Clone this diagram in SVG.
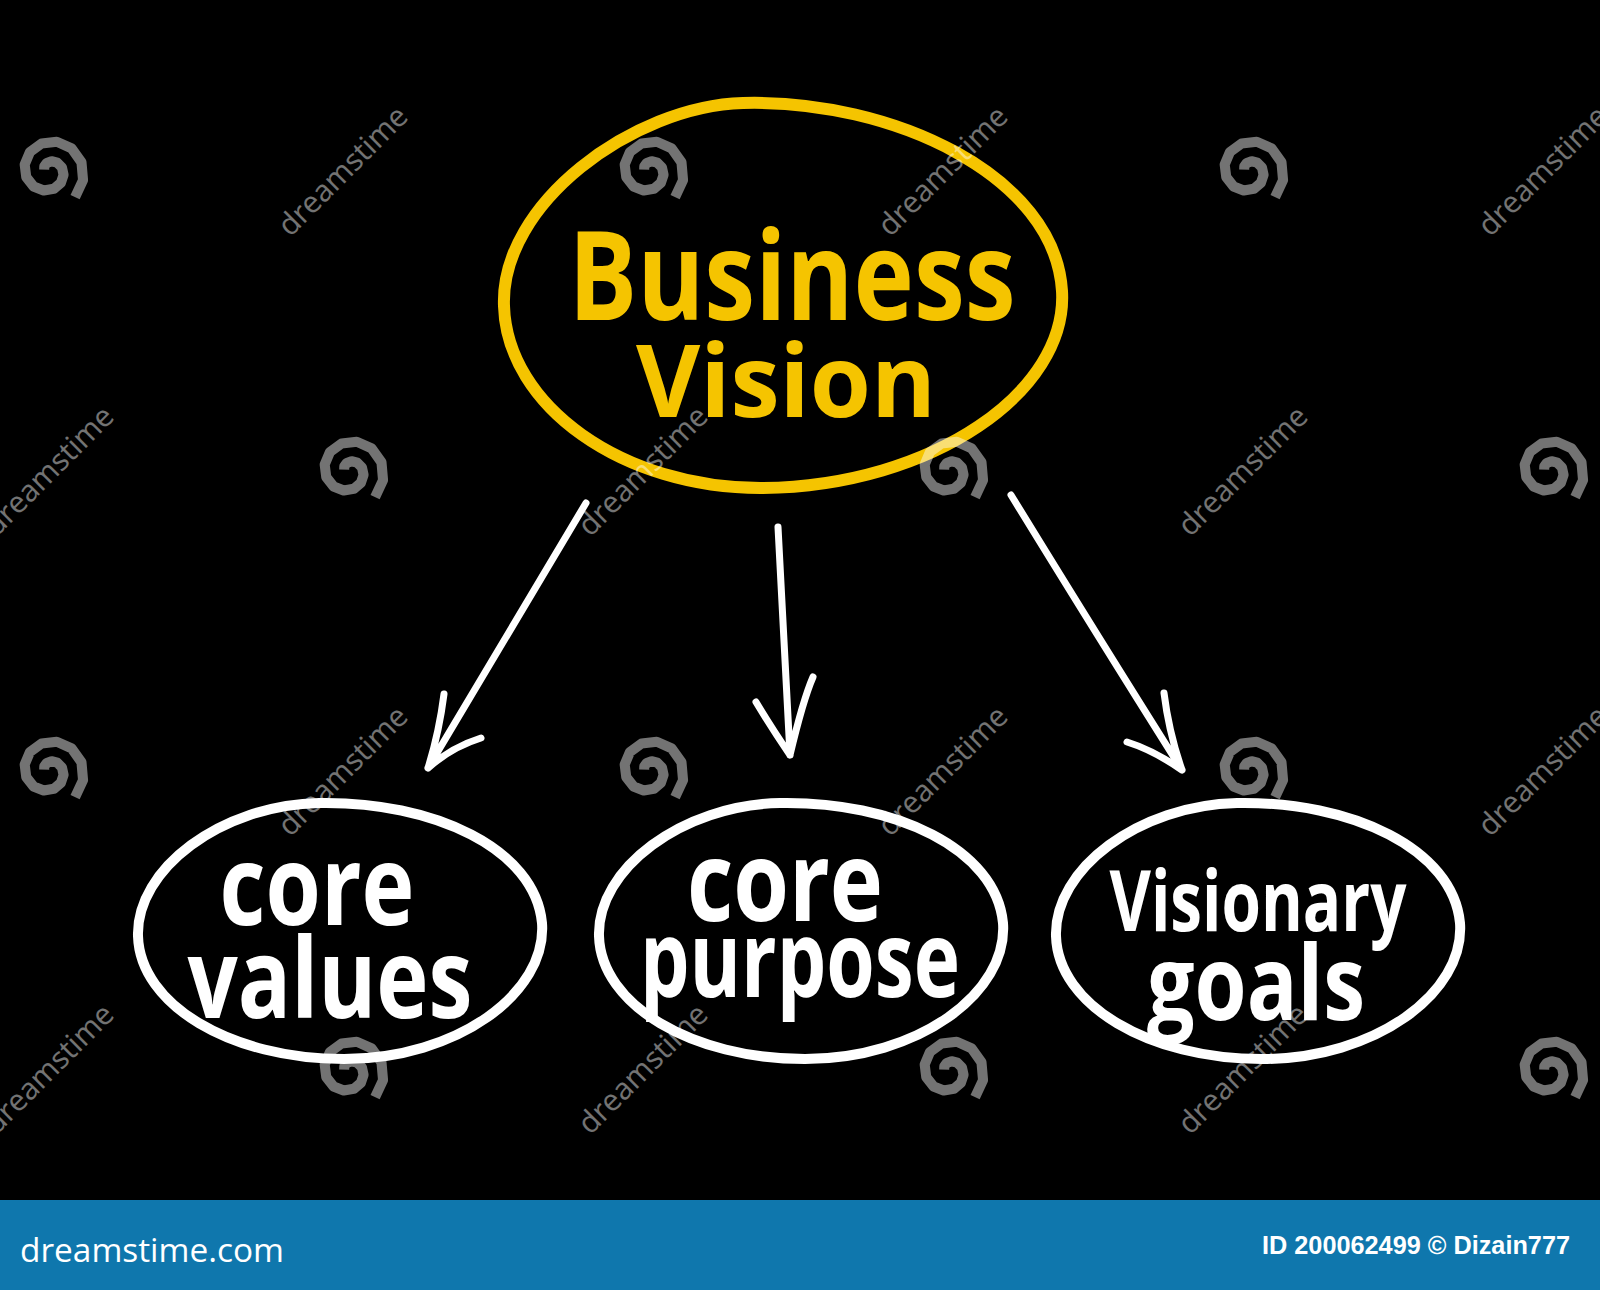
<svg xmlns="http://www.w3.org/2000/svg" xmlns:xlink="http://www.w3.org/1999/xlink" width="1600" height="1290" viewBox="0 0 1600 1290">
<style>
.hand{font-family:"Open Sans","Noto Sans","Liberation Sans",sans-serif;font-weight:700;text-anchor:middle}
.yl{fill:#f5c400}
.wt{fill:#ffffff}
.bub{fill:none;stroke:#ffffff;stroke-width:10;stroke-linejoin:round}
.conn{fill:none;stroke:#ffffff;stroke-width:7;stroke-linecap:round;stroke-linejoin:round}
.sp{fill:none;stroke:#ffffff;stroke-width:9;stroke-linejoin:round;opacity:0.45}
.wm{font-family:"Open Sans","DejaVu Sans",sans-serif;font-size:30px;fill:#ffffff;opacity:0.45;text-anchor:middle}
</style>
<defs>
<path id="bubble" d="M -201,5 C -203,-62 -118,-126 -20,-128 C 95,-130 196,-82 203,-8 C 208,62 118,128 5,128 C -108,128 -199,74 -201,5 Z"/>
<path id="spiral" transform="scale(1.12)" d="M 23.3,23.3 L 30.4,8.2 L 29.0,-7.8 L 20.2,-20.2 L 7.0,-26.1 L -6.6,-24.6 L -17,-17 L -21.7,-5.8 L -20.3,5.4 L -13.8,13.8 L -4.7,17.4 L 4.3,15.9 L 10.6,10.6 L 13,3.5 L 11.6,-3.1 L 7.4,-7.4 L 2.3,-8.7 L -1.9,-7.2 L -4.2,-4.2 L -4.3,-1.2"/>
</defs>
<rect x="0" y="0" width="1600" height="1290" fill="#000000"/>

<g id="connectors">
<path class="conn" d="M 586,503 Q 512,628 428,768 M 428,768 Q 439,733 444,694 M 428,768 Q 452,747 481,738"/>
<path class="conn" d="M 778,527 Q 784,640 790,755 M 790,755 Q 771,727 756,702 M 790,755 Q 803,700 813,677"/>
<path class="conn" d="M 1011,495 Q 1100,640 1182,770 M 1182,770 Q 1169,733 1164,693 M 1182,770 Q 1153,750 1127,742"/>
</g>

<g id="node-business-vision">
<path fill="none" stroke="#f5c400" stroke-width="12" stroke-linejoin="round" transform="translate(783,296)" d="M -279,10 C -283,-92 -150,-190 -40,-193 C 110,-197 272,-120 279,-5 C 285,95 150,190 -20,192 C -160,193 -276,110 -279,10 Z"/>
<text class="hand yl" x="792" y="320" font-size="124" textLength="447" lengthAdjust="spacingAndGlyphs">Business</text>
<text class="hand yl" x="786" y="417" font-size="100" textLength="300" lengthAdjust="spacingAndGlyphs">Vision</text>
</g>

<g id="node-core-values">
<use xlink:href="#bubble" href="#bubble" class="bub" transform="translate(339,931)"/>
<text class="hand wt" x="317" y="925" font-size="112" textLength="195" lengthAdjust="spacingAndGlyphs">core</text>
<text class="hand wt" x="330" y="1018" font-size="112" textLength="285" lengthAdjust="spacingAndGlyphs">values</text>
</g>

<g id="node-core-purpose">
<use xlink:href="#bubble" href="#bubble" class="bub" transform="translate(800,931)"/>
<text class="hand wt" x="785" y="921" font-size="112" textLength="196" lengthAdjust="spacingAndGlyphs">core</text>
<text class="hand wt" x="800" y="997" font-size="106" textLength="320" lengthAdjust="spacingAndGlyphs">purpose</text>
</g>

<g id="node-visionary-goals">
<use xlink:href="#bubble" href="#bubble" class="bub" transform="translate(1257,931)"/>
<text class="hand wt" x="1258" y="931" font-size="84" textLength="297" lengthAdjust="spacingAndGlyphs">Visionary</text>
<text class="hand wt" x="1256" y="1020" font-size="104" textLength="218" lengthAdjust="spacingAndGlyphs">goals</text>
</g>

<g id="watermarks">
<use href="#spiral" xlink:href="#spiral" class="sp" transform="translate(49,171)"/>
<use href="#spiral" xlink:href="#spiral" class="sp" transform="translate(649,171)"/>
<use href="#spiral" xlink:href="#spiral" class="sp" transform="translate(1249,171)"/>
<use href="#spiral" xlink:href="#spiral" class="sp" transform="translate(349,471)"/>
<use href="#spiral" xlink:href="#spiral" class="sp" transform="translate(949,471)"/>
<use href="#spiral" xlink:href="#spiral" class="sp" transform="translate(1549,471)"/>
<use href="#spiral" xlink:href="#spiral" class="sp" transform="translate(49,771)"/>
<use href="#spiral" xlink:href="#spiral" class="sp" transform="translate(649,771)"/>
<use href="#spiral" xlink:href="#spiral" class="sp" transform="translate(1249,771)"/>
<use href="#spiral" xlink:href="#spiral" class="sp" transform="translate(349,1071)"/>
<use href="#spiral" xlink:href="#spiral" class="sp" transform="translate(949,1071)"/>
<use href="#spiral" xlink:href="#spiral" class="sp" transform="translate(1549,1071)"/>
<text class="wm" transform="translate(350,178) rotate(-45)">dreamstime</text>
<text class="wm" transform="translate(950,178) rotate(-45)">dreamstime</text>
<text class="wm" transform="translate(1550,178) rotate(-45)">dreamstime</text>
<text class="wm" transform="translate(56,478) rotate(-45)">dreamstime</text>
<text class="wm" transform="translate(650,478) rotate(-45)">dreamstime</text>
<text class="wm" transform="translate(1250,478) rotate(-45)">dreamstime</text>
<text class="wm" transform="translate(350,778) rotate(-45)">dreamstime</text>
<text class="wm" transform="translate(950,778) rotate(-45)">dreamstime</text>
<text class="wm" transform="translate(1550,778) rotate(-45)">dreamstime</text>
<text class="wm" transform="translate(56,1076) rotate(-45)">dreamstime</text>
<text class="wm" transform="translate(650,1076) rotate(-45)">dreamstime</text>
<text class="wm" transform="translate(1250,1076) rotate(-45)">dreamstime</text>
</g>

<g id="footer">
<rect x="0" y="1200" width="1600" height="90" fill="#0f77ad"/>
<text x="20" y="1262" font-family="'Open Sans','DejaVu Sans',sans-serif" font-size="32" fill="#ffffff" textLength="264" lengthAdjust="spacingAndGlyphs">dreamstime.com</text>
<text x="1262" y="1254" font-family="'Liberation Sans',Arial,sans-serif" font-weight="700" font-size="25" fill="#ffffff" textLength="308" lengthAdjust="spacingAndGlyphs">ID 200062499 © Dizain777</text>
</g>
</svg>
